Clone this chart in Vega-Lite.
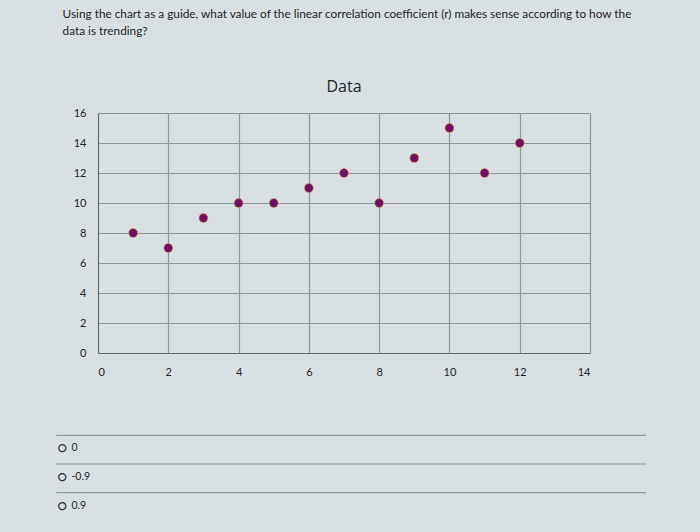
{
  "$schema": "https://vega.github.io/schema/vega-lite/v6.json",
  "background": "#d9e0e3",
  "padding": {"left": 55, "top": 9, "right": 55, "bottom": 13},
  "title": {
    "text": ["Using the chart as a guide, what value of the linear correlation coefficient (r) makes sense according to how the", "data is trending?"],
    "anchor": "start",
    "font": "Lato",
    "fontSize": 11.8,
    "fontWeight": "normal",
    "color": "#1e2326",
    "lineHeight": 17,
    "offset": 41,
    "dx": 7,
    "frame": "bounds"
  },
  "align": "none",
  "bounds": "full",
  "spacing": 57,
  "config": {
    "font": "Lato",
    "view": {"stroke": null}
  },
  "vconcat": [
    {
      "width": 492,
      "height": 240,
      "title": {"text": "Data", "fontSize": 16, "fontWeight": "normal", "font": "Open Sans", "color": "#1e2326", "offset": 12},
      "data": {
        "values": [
          {"x": 1, "y": 8},
          {"x": 2, "y": 7},
          {"x": 3, "y": 9},
          {"x": 4, "y": 10},
          {"x": 5, "y": 10},
          {"x": 6, "y": 11},
          {"x": 7, "y": 12},
          {"x": 8, "y": 10},
          {"x": 9, "y": 13},
          {"x": 10, "y": 15},
          {"x": 11, "y": 12},
          {"x": 12, "y": 14}
        ]
      },
      "mark": {"type": "circle", "size": 80, "color": "#6b1262", "opacity": 1, "stroke": "#e8a040", "strokeWidth": 0.6},
      "encoding": {
        "x": {
          "field": "x", "type": "quantitative", "title": null,
          "scale": {"domain": [0, 14], "nice": false},
          "axis": {"values": [0, 2, 4, 6, 8, 10, 12, 14], "grid": true, "gridColor": "#8c979a", "gridOpacity": 1, "gridWidth": 1.2,
                   "ticks": false, "domainColor": "#5f6a6d", "labelFontSize": 11, "labelColor": "#1e2326", "labelPadding": 13}
        },
        "y": {
          "field": "y", "type": "quantitative", "title": null,
          "scale": {"domain": [0, 16], "nice": false},
          "axis": {"values": [0, 2, 4, 6, 8, 10, 12, 14, 16], "grid": true, "gridColor": "#8c979a", "gridOpacity": 1, "gridWidth": 1.2,
                   "ticks": false, "domainColor": "#5f6a6d", "labelFontSize": 11, "labelColor": "#1e2326", "labelPadding": 12}
        }
      }
    },
    {
      "width": 492,
      "height": 86,
      "data": {"values": [{"option": "0"}, {"option": "-0.9"}, {"option": "0.9"}]},
      "encoding": {
        "y": {"field": "option", "type": "ordinal", "sort": null, "scale": {"type": "point", "padding": 0.5}, "axis": null}
      },
      "layer": [
        {
          "mark": {"type": "rule", "color": "#8c979a", "strokeWidth": 1.2, "yOffset": -13},
          "encoding": {
            "x": {"datum": -8.5, "type": "quantitative", "scale": {"domain": [0, 100], "nice": false}, "axis": null},
            "x2": {"datum": 111.4}
          }
        },
        {
          "mark": {"type": "text", "text": "○", "fontSize": 15, "color": "#2a2f33", "align": "left", "baseline": "middle"},
          "encoding": {"x": {"datum": -8.3, "type": "quantitative"}}
        },
        {
          "mark": {"type": "text", "fontSize": 10.5, "color": "#1e2326", "align": "left", "baseline": "middle"},
          "encoding": {
            "x": {"datum": -5.4, "type": "quantitative"},
            "text": {"field": "option"}
          }
        }
      ]
    }
  ]
}
